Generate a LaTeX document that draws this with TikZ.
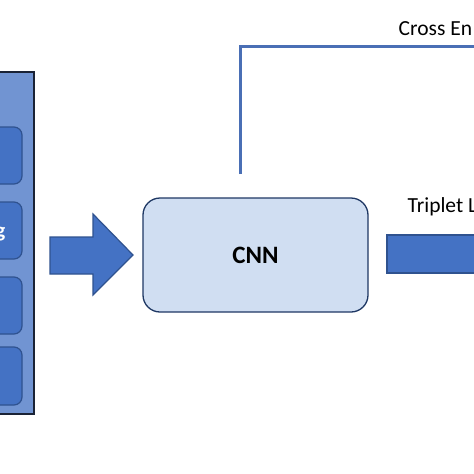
\documentclass[tikz,border=0pt]{standalone}
\usepackage{fontspec}
\setmainfont{Carlito}
\definecolor{panelfill}{HTML}{7194D2}
\definecolor{panelline}{HTML}{1A2336}
\definecolor{boxfill}{HTML}{4472C4}
\definecolor{boxline}{HTML}{2F528F}
\definecolor{cnnfill}{HTML}{D0DEF2}
\definecolor{cnnline}{HTML}{1F3864}
\definecolor{linkcol}{HTML}{4A6FB5}
\begin{document}
\begin{tikzpicture}[x=1pt,y=-1pt,
  panel/.style={draw=panelline,line width=1.6pt,fill=panelfill,minimum width=44pt,minimum height=342pt,inner sep=0pt},
  inbox/.style={draw=boxline,line width=1.2pt,fill=boxfill,rounded corners=8pt,minimum width=42pt,inner sep=0pt},
  cnnbox/.style={draw=cnnline,line width=1.3pt,fill=cnnfill,rounded corners=17pt,minimum width=225pt,minimum height=114pt,inner sep=0pt,font=\fontsize{25}{30}\selectfont\bfseries},
  bar/.style={draw=boxline,line width=1.2pt,fill=boxfill,minimum width=100pt,minimum height=38pt,inner sep=0pt},
  lbl/.style={anchor=base west,inner sep=0pt,font=\fontsize{21.5}{26}\selectfont},
  link/.style={draw=linkcol,line width=3pt}]
\useasboundingbox (0,0) rectangle (474,474);
\clip (0,0) rectangle (474,474);
\fill[white] (0,0) rectangle (474,474);
% left panel
\node[panel] (panel) at (12,243) {};
\node[inbox,minimum height=57pt] (b1) at (1,155.5) {};
\node[inbox,minimum height=57pt] (b2) at (1,230.5) {};
\node[inbox,minimum height=57pt] (b3) at (1,305.5) {};
\node[inbox,minimum height=58pt] (b4) at (1,376) {};
\node[anchor=base east,inner sep=0pt,text=white,font=\fontsize{21}{24}\selectfont\bfseries] (g) at (5.5,237) {g};
% block arrow
\draw[draw=boxline,line width=1.2pt,fill=boxfill,line join=miter]
  (50,237) -- (93,237) -- (93,214) -- (133,255) -- (93,295) -- (93,274) -- (50,274) -- cycle;
% CNN
\node[cnnbox] (cnn) at (255.5,255) {CNN};
% connector
\coordinate (lstart) at (240,174);
\coordinate (lend) at (480,46);
\draw[link] (lstart) |- (lend);
% labels
\node[lbl] (ce) at (398.5,35) {Cross En};
\node[lbl] (tl) at (407.5,212) {Triplet L};
% triplet bar
\node[bar] (tbar) at (437,254) {};
\end{tikzpicture}
\end{document}
